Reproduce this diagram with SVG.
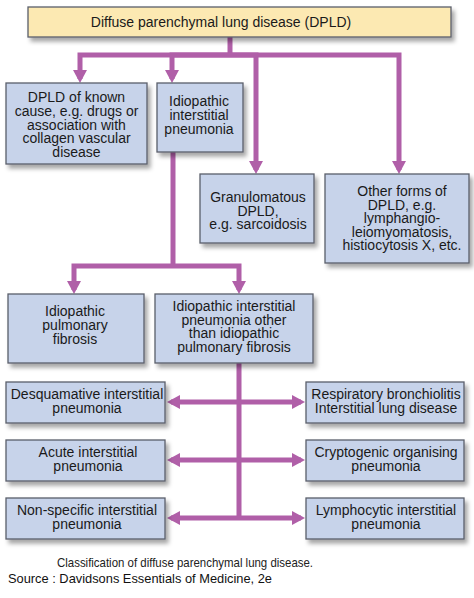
<svg xmlns="http://www.w3.org/2000/svg" width="474" height="598" viewBox="0 0 474 598">
<style>
.box{fill:#c7d3ea;stroke:#5a5f6a;stroke-width:1.3;filter:url(#sh)}
.top{fill:#fce9b2;stroke:#5a5f6a;stroke-width:1.3;filter:url(#sh)}
text{font-family:"Liberation Sans",Arial,sans-serif;font-size:14px;fill:#1a1a1a;text-anchor:middle}
.con{fill:none;stroke:#b05fa8;stroke-width:5;stroke-linejoin:miter}
.cap{font-family:"Liberation Sans Narrow","Liberation Sans",sans-serif;font-size:13.5px;text-anchor:start;fill:#222}
.src{font-size:13px;text-anchor:start;fill:#111}
</style>
<defs>
<filter id="sh" x="-10%" y="-10%" width="130%" height="140%">
<feDropShadow dx="3" dy="4" stdDeviation="2.2" flood-color="#000" flood-opacity="0.35"/>
</filter>
<marker id="ah" markerUnits="userSpaceOnUse" markerWidth="14" markerHeight="14" refX="9" refY="7" orient="auto-start-reverse">
<path d="M0,0 L13,7 L0,14 z" fill="#b05fa8"/>
</marker>
</defs>
<rect width="474" height="598" fill="#fff"/>
<g id="connectors">
<path class="con" d="M230,37 V55"/>
<path class="con" d="M230,55 H80 V79" marker-end="url(#ah)"/>
<path class="con" d="M230,55 H172 V79" marker-end="url(#ah)"/>
<path class="con" d="M230,55 H256 V170" marker-end="url(#ah)"/>
<path class="con" d="M230,55 H399 V170" marker-end="url(#ah)"/>
<path class="con" d="M173,152 V266"/>
<path class="con" d="M173,266 H74 V290" marker-end="url(#ah)"/>
<path class="con" d="M173,266 H239 V290" marker-end="url(#ah)"/>
<path class="con" d="M239,363 V518"/>
<path class="con" d="M171,402 H301" marker-start="url(#ah)" marker-end="url(#ah)"/>
<path class="con" d="M171,460 H301" marker-start="url(#ah)" marker-end="url(#ah)"/>
<path class="con" d="M171,518 H301" marker-start="url(#ah)" marker-end="url(#ah)"/>
</g>
<g id="dpld"><rect class="top" x="28" y="7" width="423" height="30"/><text x="221" y="27">Diffuse parenchymal lung disease (DPLD)</text></g>
<g id="known"><rect class="box" x="6" y="83" width="141" height="81"/>
<text x="76.5" y="102">DPLD of known</text><text x="76.5" y="115.75">cause, e.g. drugs or</text><text x="76.5" y="129.5">association with</text><text x="76.5" y="143.25">collagen vascular</text><text x="76.5" y="157">disease</text></g>
<g id="iip"><rect class="box" x="157" y="83" width="86" height="69"/>
<text x="199" y="106">Idiopathic</text><text x="199" y="120">interstitial</text><text x="199" y="134">pneumonia</text></g>
<g id="gran"><rect class="box" x="200" y="174" width="114" height="69"/>
<text x="258" y="202">Granulomatous</text><text x="258" y="215.5">DPLD,</text><text x="258" y="229">e.g. sarcoidosis</text></g>
<g id="other"><rect class="box" x="325" y="174" width="144" height="89"/>
<text x="402" y="196">Other forms of</text><text x="402" y="209.5">DPLD, e.g.</text><text x="402" y="223">lymphangio-</text><text x="402" y="236.5">leiomyomatosis,</text><text x="402" y="250">histiocytosis X, etc.</text></g>
<g id="ipf"><rect class="box" x="8" y="294" width="136" height="69"/>
<text x="75" y="316">Idiopathic</text><text x="75" y="330">pulmonary</text><text x="75" y="344">fibrosis</text></g>
<g id="iipother"><rect class="box" x="155" y="294" width="158" height="69"/>
<text x="234" y="311">Idiopathic interstitial</text><text x="234" y="324.5">pneumonia other</text><text x="234" y="338">than idiopathic</text><text x="234" y="351.5">pulmonary fibrosis</text></g>
<g id="dip"><rect class="box" x="6" y="382" width="159" height="41"/>
<text x="87" y="399">Desquamative interstitial</text><text x="87" y="413">pneumonia</text></g>
<g id="aip"><rect class="box" x="6" y="440" width="159" height="41"/>
<text x="88" y="457">Acute interstitial</text><text x="88" y="471">pneumonia</text></g>
<g id="nsip"><rect class="box" x="6" y="498" width="159" height="41"/>
<text x="87" y="515">Non-specific interstitial</text><text x="87" y="529">pneumonia</text></g>
<g id="rbild"><rect class="box" x="306" y="382" width="158" height="41"/>
<text x="386" y="399">Respiratory bronchiolitis</text><text x="386" y="413">Interstitial lung disease</text></g>
<g id="cop"><rect class="box" x="306" y="440" width="158" height="41"/>
<text x="386" y="457">Cryptogenic organising</text><text x="386" y="471">pneumonia</text></g>
<g id="lip"><rect class="box" x="306" y="498" width="158" height="41"/>
<text x="386" y="515">Lymphocytic interstitial</text><text x="386" y="529">pneumonia</text></g>
<text class="cap" x="57" y="567" textLength="256" lengthAdjust="spacingAndGlyphs">Classification of diffuse parenchymal lung disease.</text>
<text class="src" x="8" y="583" textLength="264" lengthAdjust="spacingAndGlyphs">Source : Davidsons Essentials of Medicine, 2e</text>
</svg>
